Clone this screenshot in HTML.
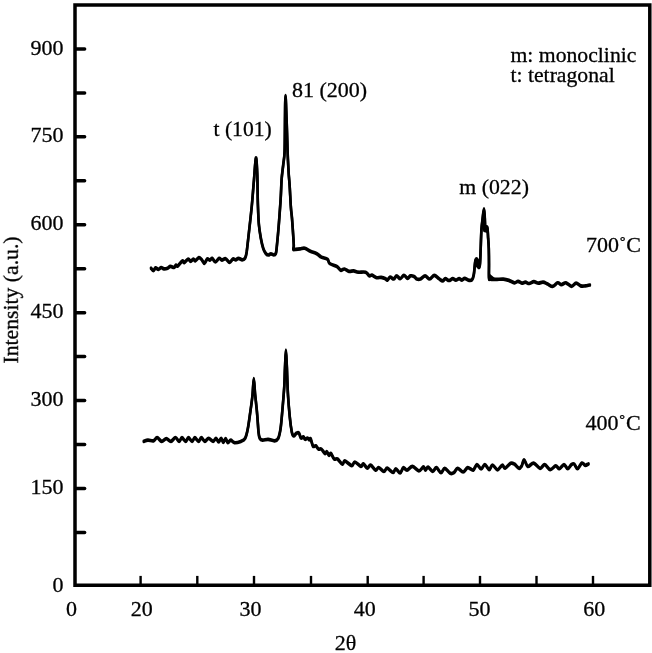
<!DOCTYPE html>
<html><head><meta charset="utf-8"><title>XRD</title>
<style>
html,body{margin:0;padding:0;background:#fff;}
body{width:652px;height:653px;overflow:hidden;}
svg{display:block;}
text{font-family:"Liberation Serif",serif;font-size:22px;fill:#000;stroke:#000;stroke-width:0.3px;}
</style></head><body>
<svg width="652" height="653" viewBox="0 0 652 653">
<rect x="0" y="0" width="652" height="653" fill="#fff"/>
<path d="M75,585.2 L75,4.9 L649.8,4.9 L649.8,585.2 Z" fill="none" stroke="#000" stroke-width="3.5" stroke-linejoin="miter"/>
<g stroke="#000" stroke-width="3.5" stroke-linecap="round"><line x1="76" y1="48.9" x2="84.6" y2="48.9"/><line x1="76" y1="92.9" x2="84.6" y2="92.9"/><line x1="76" y1="136.8" x2="84.6" y2="136.8"/><line x1="76" y1="180.8" x2="84.6" y2="180.8"/><line x1="76" y1="224.7" x2="84.6" y2="224.7"/><line x1="76" y1="268.7" x2="84.6" y2="268.7"/><line x1="76" y1="312.7" x2="84.6" y2="312.7"/><line x1="76" y1="356.6" x2="84.6" y2="356.6"/><line x1="76" y1="400.6" x2="84.6" y2="400.6"/><line x1="76" y1="444.5" x2="84.6" y2="444.5"/><line x1="76" y1="488.5" x2="84.6" y2="488.5"/><line x1="76" y1="532.5" x2="84.6" y2="532.5"/></g>
<g stroke="#000" stroke-width="2.4"><line x1="140.6" y1="575.9" x2="140.6" y2="584.5"/><line x1="197.3" y1="575.9" x2="197.3" y2="584.5"/><line x1="254.0" y1="575.9" x2="254.0" y2="584.5"/><line x1="311.0" y1="575.9" x2="311.0" y2="584.5"/><line x1="367.7" y1="575.9" x2="367.7" y2="584.5"/><line x1="423.6" y1="575.9" x2="423.6" y2="584.5"/><line x1="480.0" y1="575.9" x2="480.0" y2="584.5"/><line x1="536.5" y1="575.9" x2="536.5" y2="584.5"/><line x1="593.0" y1="575.9" x2="593.0" y2="584.5"/></g>
<g opacity="0.999"><text x="63.4" y="54.5" text-anchor="end">900</text><text x="63.4" y="142.4" text-anchor="end">750</text><text x="63.4" y="230.3" text-anchor="end">600</text><text x="63.4" y="318.3" text-anchor="end">450</text><text x="63.4" y="406.2" text-anchor="end">300</text><text x="63.4" y="494.1" text-anchor="end">150</text><text x="63.4" y="592.2" text-anchor="end">0</text><text x="71.5" y="615.8" text-anchor="middle">0</text><text x="141.8" y="615.8" text-anchor="middle">20</text><text x="250.5" y="615.8" text-anchor="middle">30</text><text x="364.8" y="615.8" text-anchor="middle">40</text><text x="479.5" y="615.8" text-anchor="middle">50</text><text x="594.2" y="615.8" text-anchor="middle">60</text>
<text x="345.5" y="650.3" text-anchor="middle">2θ</text>
<text transform="translate(17.9,300) rotate(-90)" text-anchor="middle" style="font-size:21.7px">Intensity (a.u.)</text>
<text x="510.5" y="61.6" style="font-size:21.7px">m: monoclinic</text>
<text x="510.5" y="81.8" style="font-size:21.7px">t: tetragonal</text>
<text x="213.5" y="135.6" style="font-size:21.6px">t (101)</text>
<text x="292" y="97">81 (200)</text>
<text x="459.3" y="193.5" style="font-size:21.8px">m (022)</text>
<text x="586.0" y="252">700˚C</text>
<text x="585.6" y="430.2">400˚C</text></g>
<g fill="none" stroke="#000" stroke-width="2.6" stroke-linejoin="round" stroke-linecap="round">
<g transform="translate(0,-0.55)"><path d="M151.0,268.2 C151.4,268.6 152.5,270.7 153.3,270.6 C154.1,270.6 154.8,268.1 155.6,267.9 C156.4,267.7 157.5,269.4 158.4,269.3 C159.3,269.2 160.3,267.6 161.2,267.5 C162.1,267.4 162.8,268.7 163.9,268.8 C165.0,268.9 166.5,268.6 167.6,268.2 C168.7,267.8 169.3,266.5 170.4,266.4 C171.5,266.3 173.1,267.7 174.0,267.5 C174.9,267.3 175.3,265.4 175.9,265.1 C176.5,264.9 176.6,266.7 177.7,266.0 C178.8,265.3 181.2,261.4 182.3,260.9 C183.4,260.3 183.2,263.0 184.2,262.7 C185.2,262.4 187.1,259.2 188.2,259.0 C189.3,258.8 189.7,261.4 190.6,261.4 C191.5,261.4 192.6,259.1 193.4,259.0 C194.2,258.9 194.3,261.1 195.2,260.9 C196.1,260.7 197.8,257.9 198.9,257.7 C200.0,257.5 200.8,258.7 201.7,259.6 C202.6,260.5 203.5,263.4 204.4,263.3 C205.3,263.2 206.3,259.5 207.2,259.0 C208.1,258.5 209.1,260.2 209.9,260.1 C210.7,260.0 211.3,258.0 212.2,258.3 C213.1,258.6 214.3,262.0 215.5,262.0 C216.7,262.0 218.0,258.6 219.1,258.3 C220.2,258.0 220.8,260.0 221.9,260.1 C223.0,260.2 224.3,258.3 225.6,258.7 C226.9,259.1 228.4,262.2 229.6,262.3 C230.8,262.4 231.9,259.4 232.9,259.0 C233.9,258.6 234.8,259.9 235.7,259.8 C236.6,259.7 237.4,258.3 238.5,258.3 C239.6,258.3 241.1,259.8 242.2,259.8 C243.3,259.8 244.3,259.5 245.0,258.3 C245.7,257.1 245.9,256.9 246.6,252.6 C247.2,248.3 248.0,240.6 248.9,232.6 C249.8,224.6 251.1,213.4 251.9,204.8 C252.7,196.2 253.2,188.7 253.9,180.9 C254.6,173.1 255.3,158.9 255.9,157.9 C256.5,156.9 257.0,167.1 257.3,174.9 C257.6,182.7 257.6,196.5 257.9,204.8 C258.2,213.1 258.4,219.1 258.9,224.7 C259.4,230.3 260.2,234.6 260.9,238.6 C261.6,242.6 262.5,246.1 263.3,248.6 C264.1,251.1 265.0,252.5 265.9,253.6 C266.8,254.7 267.7,255.0 268.5,255.0 C269.3,255.0 270.0,253.8 270.9,253.8 C271.8,253.8 273.0,255.0 273.8,255.0 C274.6,255.0 275.3,255.0 275.8,253.6 C276.3,252.2 276.3,251.4 276.8,246.6 C277.3,241.8 278.2,232.5 278.8,224.7 C279.4,216.9 280.1,207.5 280.6,200.0 C281.1,192.5 281.2,185.4 281.6,179.6 C282.0,173.8 282.7,169.7 283.2,165.0 C283.7,160.3 284.3,159.2 284.6,151.7 C284.9,144.2 284.9,129.4 285.0,120.0 C285.1,110.6 285.2,95.5 285.5,95.5 C285.8,95.5 286.2,110.6 286.6,120.0 C287.0,129.4 287.3,143.0 287.6,151.7 C287.9,160.4 288.3,166.4 288.6,172.0 C288.9,177.6 289.2,179.1 289.6,185.0 C290.0,190.9 290.5,201.9 290.9,207.5 C291.3,213.1 291.6,213.5 292.0,218.4 C292.4,223.3 293.0,232.2 293.3,236.8 C293.6,241.4 293.8,243.9 293.8,246.0 C293.8,248.1 293.0,248.8 293.3,249.3 C293.6,249.9 294.5,249.4 295.6,249.3 C296.8,249.2 298.7,249.0 300.2,248.8 C301.7,248.6 303.1,247.8 304.8,248.2 C306.5,248.6 308.4,250.3 310.4,251.2 C312.4,252.1 315.0,252.7 316.8,253.7 C318.6,254.7 319.6,256.2 321.4,257.1 C323.2,258.0 326.1,258.2 327.5,259.3 C328.9,260.4 328.1,262.3 329.7,263.5 C331.3,264.7 335.3,265.5 337.1,266.6 C338.9,267.7 339.5,269.9 340.7,270.3 C341.9,270.7 343.0,268.8 344.4,269.0 C345.8,269.2 347.5,271.1 349.0,271.4 C350.5,271.7 352.1,270.8 353.6,270.9 C355.1,271.0 356.2,272.0 358.2,272.2 C360.2,272.4 363.8,271.6 365.6,272.2 C367.5,272.8 368.2,275.3 369.3,275.8 C370.4,276.3 370.8,274.8 372.0,275.1 C373.2,275.4 375.1,277.3 376.6,277.7 C378.1,278.1 379.7,277.1 381.2,277.3 C382.7,277.5 384.5,278.2 385.5,278.7 C386.5,279.2 386.6,280.4 387.4,280.1 C388.2,279.9 389.0,277.4 390.1,277.2 C391.2,277.0 392.7,279.2 393.8,279.0 C394.9,278.8 395.5,275.9 396.6,275.9 C397.7,275.8 399.0,278.8 400.2,278.7 C401.4,278.6 402.7,275.4 403.9,275.3 C405.1,275.2 406.5,278.2 407.6,278.3 C408.7,278.4 409.3,276.2 410.4,275.9 C411.5,275.6 412.9,275.9 414.0,276.4 C415.1,276.9 415.7,278.6 416.8,279.0 C417.9,279.4 419.1,279.5 420.5,279.0 C421.9,278.5 423.6,275.9 425.1,275.9 C426.6,275.9 428.2,279.1 429.7,279.0 C431.2,278.9 432.8,275.4 434.3,275.3 C435.8,275.2 437.5,277.8 438.9,278.7 C440.3,279.6 441.5,280.9 442.6,280.9 C443.7,280.9 444.2,278.8 445.3,278.7 C446.4,278.6 447.8,280.5 449.0,280.5 C450.2,280.5 451.6,278.8 452.7,278.7 C453.8,278.6 454.7,280.1 455.8,280.1 C456.9,280.1 458.1,278.7 459.1,278.7 C460.1,278.7 461.0,280.2 461.9,280.1 C462.8,280.0 463.6,278.3 464.7,278.3 C465.8,278.3 467.1,279.9 468.3,280.1 C469.5,280.4 471.1,280.7 472.0,279.8 C472.9,278.9 473.2,277.8 473.8,274.6 C474.4,271.4 474.8,263.1 475.4,260.6 C476.0,258.1 476.9,258.7 477.4,259.8 C477.9,260.9 478.0,266.2 478.4,267.0 C478.8,267.8 479.5,267.8 479.9,264.7 C480.3,261.6 480.4,254.3 480.7,248.6 C480.9,242.8 481.1,235.3 481.4,230.2 C481.7,225.1 482.3,221.6 482.7,218.0 C483.1,214.4 483.6,208.8 484.0,208.8 C484.4,208.8 484.6,214.9 484.8,218.0 C485.0,221.1 484.9,225.6 485.3,227.2 C485.7,228.8 486.8,225.7 487.3,227.5 C487.8,229.3 487.9,234.4 488.1,237.9 C488.4,241.4 488.7,244.3 488.8,248.6 C488.9,252.9 489.0,259.0 489.0,263.9 C489.0,268.8 488.8,275.1 489.0,277.7 C489.2,280.2 489.2,278.9 490.4,279.2 C491.6,279.5 493.8,279.4 496.0,279.4 C498.2,279.4 501.2,278.9 503.4,279.1 C505.5,279.3 507.1,279.8 508.9,280.4 C510.7,281.0 512.9,282.6 514.4,282.8 C515.9,283.0 516.9,281.2 518.1,281.3 C519.3,281.4 520.6,283.0 521.8,283.1 C523.0,283.2 524.3,282.1 525.5,282.2 C526.7,282.3 527.8,283.6 529.2,283.5 C530.6,283.4 532.3,281.8 533.8,281.7 C535.3,281.6 536.9,283.0 538.4,283.1 C539.9,283.2 541.5,282.1 543.0,282.2 C544.5,282.3 546.0,283.3 547.6,284.0 C549.2,284.7 551.0,286.6 552.7,286.4 C554.4,286.2 556.2,283.1 557.7,282.8 C559.2,282.5 560.0,284.6 561.4,284.6 C562.8,284.6 564.3,282.5 566.0,282.8 C567.7,283.1 569.8,286.3 571.5,286.4 C573.2,286.4 574.6,283.2 576.1,283.1 C577.6,283.0 579.2,285.4 580.7,285.9 C582.2,286.4 583.8,286.0 585.3,285.9 C586.8,285.8 589.1,285.1 589.9,285.0"/><path d="M143.8,441.4 C144.5,441.2 146.3,440.2 147.9,440.1 C149.5,440.0 151.9,441.3 153.4,440.9 C154.9,440.5 155.7,437.6 157.1,437.7 C158.5,437.8 160.2,441.2 161.7,441.4 C163.2,441.6 164.8,438.7 166.3,438.7 C167.8,438.7 169.4,441.6 170.9,441.4 C172.4,441.2 174.1,437.7 175.5,437.7 C176.9,437.7 178.1,441.4 179.2,441.4 C180.3,441.4 180.8,437.7 181.9,437.7 C183.0,437.7 184.5,441.4 185.6,441.4 C186.7,441.4 187.3,437.7 188.4,437.7 C189.5,437.7 191.0,441.4 192.1,441.4 C193.2,441.4 193.7,437.7 194.8,437.7 C195.9,437.7 197.4,441.4 198.5,441.4 C199.6,441.4 200.2,437.7 201.3,437.7 C202.4,437.7 203.7,441.3 204.9,441.4 C206.1,441.5 207.2,438.3 208.6,438.3 C210.0,438.3 212.0,441.4 213.2,441.4 C214.4,441.4 215.1,438.2 216.0,438.3 C216.9,438.4 217.8,442.0 218.7,442.0 C219.5,442.0 220.3,438.2 221.1,438.3 C221.9,438.4 222.6,442.2 223.3,442.3 C224.1,442.4 224.8,438.6 225.6,438.7 C226.4,438.8 227.1,442.5 227.9,442.7 C228.8,442.9 229.6,440.1 230.7,440.1 C231.8,440.1 232.7,442.5 234.4,442.7 C236.1,442.9 239.0,442.1 240.8,441.4 C242.6,440.7 243.9,440.6 245.1,438.4 C246.3,436.2 247.0,433.1 247.9,428.3 C248.8,423.6 249.8,415.4 250.6,409.9 C251.4,404.4 252.0,400.4 252.5,395.2 C253.0,390.0 253.4,378.6 253.8,378.6 C254.2,378.6 254.6,389.4 255.2,395.2 C255.8,401.0 256.6,407.5 257.1,413.6 C257.7,419.7 258.1,427.9 258.5,432.0 C258.9,436.1 259.1,437.0 259.8,438.4 C260.5,439.8 261.2,440.0 262.6,440.2 C264.0,440.4 266.1,439.2 268.1,439.3 C270.1,439.4 272.8,441.0 274.5,440.8 C276.2,440.6 277.2,440.5 278.2,438.4 C279.2,436.3 279.9,433.1 280.6,428.3 C281.3,423.6 281.8,416.9 282.4,409.9 C283.0,402.8 283.9,393.1 284.3,386.0 C284.7,378.9 284.7,373.6 285.0,367.6 C285.3,361.6 285.6,350.1 285.9,350.1 C286.2,350.1 286.5,360.1 286.9,367.6 C287.2,375.1 287.5,386.9 288.0,395.2 C288.5,403.5 289.2,411.1 289.8,417.2 C290.4,423.3 291.2,428.9 291.8,432.0 C292.4,435.1 292.9,435.8 293.7,436.0 C294.5,436.2 295.5,433.8 296.4,433.3 C297.2,432.8 298.0,432.1 298.8,432.9 C299.6,433.7 300.2,437.3 301.0,438.0 C301.8,438.7 302.6,436.7 303.3,436.9 C304.0,437.1 304.4,439.1 305.1,439.3 C305.8,439.5 306.8,437.9 307.5,438.0 C308.2,438.1 308.8,439.8 309.3,439.9 C309.8,440.0 310.0,437.8 310.6,438.8 C311.2,439.8 312.1,444.9 313.0,446.1 C313.9,447.3 314.9,445.3 315.8,445.8 C316.7,446.3 317.6,448.6 318.5,449.1 C319.4,449.7 320.2,448.4 321.3,449.1 C322.4,449.8 324.1,453.1 325.0,453.5 C325.9,453.9 326.1,451.4 326.8,451.7 C327.5,452.0 328.3,455.0 329.0,455.3 C329.7,455.6 330.0,452.9 330.9,453.5 C331.8,454.1 333.1,458.1 334.2,459.0 C335.3,459.9 336.1,458.1 337.5,459.0 C338.9,459.9 341.3,463.9 342.5,464.2 C343.7,464.5 343.3,460.7 344.8,460.9 C346.3,461.1 350.0,465.4 351.7,465.6 C353.4,465.8 353.3,461.9 354.8,462.0 C356.3,462.1 359.5,466.1 360.9,466.4 C362.3,466.7 362.2,463.5 363.3,463.8 C364.4,464.1 366.1,468.0 367.3,468.2 C368.5,468.4 369.2,464.8 370.6,465.1 C372.0,465.4 374.2,469.7 375.6,470.1 C377.0,470.5 377.3,467.3 378.7,467.5 C380.1,467.7 382.5,471.4 383.9,471.5 C385.3,471.6 385.7,468.0 387.2,468.2 C388.7,468.4 391.7,472.4 393.1,472.5 C394.5,472.6 394.6,468.7 395.8,468.8 C397.0,468.9 398.9,473.2 400.1,473.0 C401.4,472.8 402.2,468.2 403.3,467.7 C404.4,467.2 405.5,470.3 407.0,470.1 C408.5,469.9 410.5,466.3 412.5,466.4 C414.5,466.5 417.1,470.8 418.9,470.9 C420.7,471.0 422.4,466.9 423.5,466.8 C424.6,466.7 424.6,470.0 425.4,470.1 C426.2,470.2 426.9,467.0 428.1,467.2 C429.3,467.4 431.3,471.3 432.7,471.4 C434.1,471.5 435.0,467.5 436.4,467.7 C437.8,467.9 439.6,472.6 441.0,472.7 C442.4,472.8 443.2,468.2 444.7,468.3 C446.2,468.4 448.7,472.6 450.2,473.3 C451.7,474.0 452.7,473.5 453.9,472.7 C455.1,471.9 456.1,468.4 457.6,468.3 C459.1,468.2 461.4,472.1 463.1,472.0 C464.8,471.9 466.0,468.0 467.7,467.7 C469.4,467.4 471.7,470.6 473.2,470.1 C474.7,469.6 475.6,464.8 476.9,464.6 C478.2,464.4 479.8,469.0 481.1,469.0 C482.4,469.0 483.5,464.5 484.8,464.6 C486.1,464.7 487.9,469.5 489.2,469.6 C490.5,469.7 491.1,465.0 492.5,465.0 C493.9,465.0 495.9,469.8 497.5,469.8 C499.1,469.8 500.9,465.5 502.2,465.2 C503.5,464.9 503.7,468.5 505.1,468.2 C506.5,467.9 509.1,464.0 510.6,463.3 C512.1,462.6 512.9,463.2 514.3,464.0 C515.7,464.8 517.7,468.0 518.9,468.3 C520.1,468.6 520.8,467.3 521.7,465.9 C522.6,464.5 523.1,459.7 524.1,459.8 C525.1,459.9 526.2,465.8 527.8,466.4 C529.4,466.9 531.7,462.8 533.7,463.1 C535.8,463.4 538.3,468.1 540.1,468.3 C541.9,468.6 543.0,464.4 544.7,464.6 C546.4,464.8 548.4,469.4 550.2,469.6 C552.0,469.8 554.2,466.0 555.7,465.9 C557.2,465.8 558.0,468.9 559.4,468.7 C560.8,468.5 562.6,464.6 564.0,464.6 C565.4,464.6 566.5,468.7 567.7,468.7 C568.9,468.7 570.3,465.4 571.4,464.6 C572.5,463.8 573.2,463.3 574.2,464.0 C575.2,464.7 576.2,468.8 577.5,468.7 C578.8,468.6 580.6,463.7 581.9,463.1 C583.2,462.5 584.1,465.2 585.2,465.3 C586.3,465.4 588.0,464.2 588.5,464.0"/></g>
<g transform="translate(0,0.55)"><path d="M151.0,268.2 C151.4,268.6 152.5,270.7 153.3,270.6 C154.1,270.6 154.8,268.1 155.6,267.9 C156.4,267.7 157.5,269.4 158.4,269.3 C159.3,269.2 160.3,267.6 161.2,267.5 C162.1,267.4 162.8,268.7 163.9,268.8 C165.0,268.9 166.5,268.6 167.6,268.2 C168.7,267.8 169.3,266.5 170.4,266.4 C171.5,266.3 173.1,267.7 174.0,267.5 C174.9,267.3 175.3,265.4 175.9,265.1 C176.5,264.9 176.6,266.7 177.7,266.0 C178.8,265.3 181.2,261.4 182.3,260.9 C183.4,260.3 183.2,263.0 184.2,262.7 C185.2,262.4 187.1,259.2 188.2,259.0 C189.3,258.8 189.7,261.4 190.6,261.4 C191.5,261.4 192.6,259.1 193.4,259.0 C194.2,258.9 194.3,261.1 195.2,260.9 C196.1,260.7 197.8,257.9 198.9,257.7 C200.0,257.5 200.8,258.7 201.7,259.6 C202.6,260.5 203.5,263.4 204.4,263.3 C205.3,263.2 206.3,259.5 207.2,259.0 C208.1,258.5 209.1,260.2 209.9,260.1 C210.7,260.0 211.3,258.0 212.2,258.3 C213.1,258.6 214.3,262.0 215.5,262.0 C216.7,262.0 218.0,258.6 219.1,258.3 C220.2,258.0 220.8,260.0 221.9,260.1 C223.0,260.2 224.3,258.3 225.6,258.7 C226.9,259.1 228.4,262.2 229.6,262.3 C230.8,262.4 231.9,259.4 232.9,259.0 C233.9,258.6 234.8,259.9 235.7,259.8 C236.6,259.7 237.4,258.3 238.5,258.3 C239.6,258.3 241.1,259.8 242.2,259.8 C243.3,259.8 244.3,259.5 245.0,258.3 C245.7,257.1 245.9,256.9 246.6,252.6 C247.2,248.3 248.0,240.6 248.9,232.6 C249.8,224.6 251.1,213.4 251.9,204.8 C252.7,196.2 253.2,188.7 253.9,180.9 C254.6,173.1 255.3,158.9 255.9,157.9 C256.5,156.9 257.0,167.1 257.3,174.9 C257.6,182.7 257.6,196.5 257.9,204.8 C258.2,213.1 258.4,219.1 258.9,224.7 C259.4,230.3 260.2,234.6 260.9,238.6 C261.6,242.6 262.5,246.1 263.3,248.6 C264.1,251.1 265.0,252.5 265.9,253.6 C266.8,254.7 267.7,255.0 268.5,255.0 C269.3,255.0 270.0,253.8 270.9,253.8 C271.8,253.8 273.0,255.0 273.8,255.0 C274.6,255.0 275.3,255.0 275.8,253.6 C276.3,252.2 276.3,251.4 276.8,246.6 C277.3,241.8 278.2,232.5 278.8,224.7 C279.4,216.9 280.1,207.5 280.6,200.0 C281.1,192.5 281.2,185.4 281.6,179.6 C282.0,173.8 282.7,169.7 283.2,165.0 C283.7,160.3 284.3,159.2 284.6,151.7 C284.9,144.2 284.9,129.4 285.0,120.0 C285.1,110.6 285.2,95.5 285.5,95.5 C285.8,95.5 286.2,110.6 286.6,120.0 C287.0,129.4 287.3,143.0 287.6,151.7 C287.9,160.4 288.3,166.4 288.6,172.0 C288.9,177.6 289.2,179.1 289.6,185.0 C290.0,190.9 290.5,201.9 290.9,207.5 C291.3,213.1 291.6,213.5 292.0,218.4 C292.4,223.3 293.0,232.2 293.3,236.8 C293.6,241.4 293.8,243.9 293.8,246.0 C293.8,248.1 293.0,248.8 293.3,249.3 C293.6,249.9 294.5,249.4 295.6,249.3 C296.8,249.2 298.7,249.0 300.2,248.8 C301.7,248.6 303.1,247.8 304.8,248.2 C306.5,248.6 308.4,250.3 310.4,251.2 C312.4,252.1 315.0,252.7 316.8,253.7 C318.6,254.7 319.6,256.2 321.4,257.1 C323.2,258.0 326.1,258.2 327.5,259.3 C328.9,260.4 328.1,262.3 329.7,263.5 C331.3,264.7 335.3,265.5 337.1,266.6 C338.9,267.7 339.5,269.9 340.7,270.3 C341.9,270.7 343.0,268.8 344.4,269.0 C345.8,269.2 347.5,271.1 349.0,271.4 C350.5,271.7 352.1,270.8 353.6,270.9 C355.1,271.0 356.2,272.0 358.2,272.2 C360.2,272.4 363.8,271.6 365.6,272.2 C367.5,272.8 368.2,275.3 369.3,275.8 C370.4,276.3 370.8,274.8 372.0,275.1 C373.2,275.4 375.1,277.3 376.6,277.7 C378.1,278.1 379.7,277.1 381.2,277.3 C382.7,277.5 384.5,278.2 385.5,278.7 C386.5,279.2 386.6,280.4 387.4,280.1 C388.2,279.9 389.0,277.4 390.1,277.2 C391.2,277.0 392.7,279.2 393.8,279.0 C394.9,278.8 395.5,275.9 396.6,275.9 C397.7,275.8 399.0,278.8 400.2,278.7 C401.4,278.6 402.7,275.4 403.9,275.3 C405.1,275.2 406.5,278.2 407.6,278.3 C408.7,278.4 409.3,276.2 410.4,275.9 C411.5,275.6 412.9,275.9 414.0,276.4 C415.1,276.9 415.7,278.6 416.8,279.0 C417.9,279.4 419.1,279.5 420.5,279.0 C421.9,278.5 423.6,275.9 425.1,275.9 C426.6,275.9 428.2,279.1 429.7,279.0 C431.2,278.9 432.8,275.4 434.3,275.3 C435.8,275.2 437.5,277.8 438.9,278.7 C440.3,279.6 441.5,280.9 442.6,280.9 C443.7,280.9 444.2,278.8 445.3,278.7 C446.4,278.6 447.8,280.5 449.0,280.5 C450.2,280.5 451.6,278.8 452.7,278.7 C453.8,278.6 454.7,280.1 455.8,280.1 C456.9,280.1 458.1,278.7 459.1,278.7 C460.1,278.7 461.0,280.2 461.9,280.1 C462.8,280.0 463.6,278.3 464.7,278.3 C465.8,278.3 467.1,279.9 468.3,280.1 C469.5,280.4 471.1,280.7 472.0,279.8 C472.9,278.9 473.2,277.8 473.8,274.6 C474.4,271.4 474.8,263.1 475.4,260.6 C476.0,258.1 476.9,258.7 477.4,259.8 C477.9,260.9 478.0,266.2 478.4,267.0 C478.8,267.8 479.5,267.8 479.9,264.7 C480.3,261.6 480.4,254.3 480.7,248.6 C480.9,242.8 481.1,235.3 481.4,230.2 C481.7,225.1 482.3,221.6 482.7,218.0 C483.1,214.4 483.6,208.8 484.0,208.8 C484.4,208.8 484.6,214.9 484.8,218.0 C485.0,221.1 484.9,225.6 485.3,227.2 C485.7,228.8 486.8,225.7 487.3,227.5 C487.8,229.3 487.9,234.4 488.1,237.9 C488.4,241.4 488.7,244.3 488.8,248.6 C488.9,252.9 489.0,259.0 489.0,263.9 C489.0,268.8 488.8,275.1 489.0,277.7 C489.2,280.2 489.2,278.9 490.4,279.2 C491.6,279.5 493.8,279.4 496.0,279.4 C498.2,279.4 501.2,278.9 503.4,279.1 C505.5,279.3 507.1,279.8 508.9,280.4 C510.7,281.0 512.9,282.6 514.4,282.8 C515.9,283.0 516.9,281.2 518.1,281.3 C519.3,281.4 520.6,283.0 521.8,283.1 C523.0,283.2 524.3,282.1 525.5,282.2 C526.7,282.3 527.8,283.6 529.2,283.5 C530.6,283.4 532.3,281.8 533.8,281.7 C535.3,281.6 536.9,283.0 538.4,283.1 C539.9,283.2 541.5,282.1 543.0,282.2 C544.5,282.3 546.0,283.3 547.6,284.0 C549.2,284.7 551.0,286.6 552.7,286.4 C554.4,286.2 556.2,283.1 557.7,282.8 C559.2,282.5 560.0,284.6 561.4,284.6 C562.8,284.6 564.3,282.5 566.0,282.8 C567.7,283.1 569.8,286.3 571.5,286.4 C573.2,286.4 574.6,283.2 576.1,283.1 C577.6,283.0 579.2,285.4 580.7,285.9 C582.2,286.4 583.8,286.0 585.3,285.9 C586.8,285.8 589.1,285.1 589.9,285.0"/><path d="M143.8,441.4 C144.5,441.2 146.3,440.2 147.9,440.1 C149.5,440.0 151.9,441.3 153.4,440.9 C154.9,440.5 155.7,437.6 157.1,437.7 C158.5,437.8 160.2,441.2 161.7,441.4 C163.2,441.6 164.8,438.7 166.3,438.7 C167.8,438.7 169.4,441.6 170.9,441.4 C172.4,441.2 174.1,437.7 175.5,437.7 C176.9,437.7 178.1,441.4 179.2,441.4 C180.3,441.4 180.8,437.7 181.9,437.7 C183.0,437.7 184.5,441.4 185.6,441.4 C186.7,441.4 187.3,437.7 188.4,437.7 C189.5,437.7 191.0,441.4 192.1,441.4 C193.2,441.4 193.7,437.7 194.8,437.7 C195.9,437.7 197.4,441.4 198.5,441.4 C199.6,441.4 200.2,437.7 201.3,437.7 C202.4,437.7 203.7,441.3 204.9,441.4 C206.1,441.5 207.2,438.3 208.6,438.3 C210.0,438.3 212.0,441.4 213.2,441.4 C214.4,441.4 215.1,438.2 216.0,438.3 C216.9,438.4 217.8,442.0 218.7,442.0 C219.5,442.0 220.3,438.2 221.1,438.3 C221.9,438.4 222.6,442.2 223.3,442.3 C224.1,442.4 224.8,438.6 225.6,438.7 C226.4,438.8 227.1,442.5 227.9,442.7 C228.8,442.9 229.6,440.1 230.7,440.1 C231.8,440.1 232.7,442.5 234.4,442.7 C236.1,442.9 239.0,442.1 240.8,441.4 C242.6,440.7 243.9,440.6 245.1,438.4 C246.3,436.2 247.0,433.1 247.9,428.3 C248.8,423.6 249.8,415.4 250.6,409.9 C251.4,404.4 252.0,400.4 252.5,395.2 C253.0,390.0 253.4,378.6 253.8,378.6 C254.2,378.6 254.6,389.4 255.2,395.2 C255.8,401.0 256.6,407.5 257.1,413.6 C257.7,419.7 258.1,427.9 258.5,432.0 C258.9,436.1 259.1,437.0 259.8,438.4 C260.5,439.8 261.2,440.0 262.6,440.2 C264.0,440.4 266.1,439.2 268.1,439.3 C270.1,439.4 272.8,441.0 274.5,440.8 C276.2,440.6 277.2,440.5 278.2,438.4 C279.2,436.3 279.9,433.1 280.6,428.3 C281.3,423.6 281.8,416.9 282.4,409.9 C283.0,402.8 283.9,393.1 284.3,386.0 C284.7,378.9 284.7,373.6 285.0,367.6 C285.3,361.6 285.6,350.1 285.9,350.1 C286.2,350.1 286.5,360.1 286.9,367.6 C287.2,375.1 287.5,386.9 288.0,395.2 C288.5,403.5 289.2,411.1 289.8,417.2 C290.4,423.3 291.2,428.9 291.8,432.0 C292.4,435.1 292.9,435.8 293.7,436.0 C294.5,436.2 295.5,433.8 296.4,433.3 C297.2,432.8 298.0,432.1 298.8,432.9 C299.6,433.7 300.2,437.3 301.0,438.0 C301.8,438.7 302.6,436.7 303.3,436.9 C304.0,437.1 304.4,439.1 305.1,439.3 C305.8,439.5 306.8,437.9 307.5,438.0 C308.2,438.1 308.8,439.8 309.3,439.9 C309.8,440.0 310.0,437.8 310.6,438.8 C311.2,439.8 312.1,444.9 313.0,446.1 C313.9,447.3 314.9,445.3 315.8,445.8 C316.7,446.3 317.6,448.6 318.5,449.1 C319.4,449.7 320.2,448.4 321.3,449.1 C322.4,449.8 324.1,453.1 325.0,453.5 C325.9,453.9 326.1,451.4 326.8,451.7 C327.5,452.0 328.3,455.0 329.0,455.3 C329.7,455.6 330.0,452.9 330.9,453.5 C331.8,454.1 333.1,458.1 334.2,459.0 C335.3,459.9 336.1,458.1 337.5,459.0 C338.9,459.9 341.3,463.9 342.5,464.2 C343.7,464.5 343.3,460.7 344.8,460.9 C346.3,461.1 350.0,465.4 351.7,465.6 C353.4,465.8 353.3,461.9 354.8,462.0 C356.3,462.1 359.5,466.1 360.9,466.4 C362.3,466.7 362.2,463.5 363.3,463.8 C364.4,464.1 366.1,468.0 367.3,468.2 C368.5,468.4 369.2,464.8 370.6,465.1 C372.0,465.4 374.2,469.7 375.6,470.1 C377.0,470.5 377.3,467.3 378.7,467.5 C380.1,467.7 382.5,471.4 383.9,471.5 C385.3,471.6 385.7,468.0 387.2,468.2 C388.7,468.4 391.7,472.4 393.1,472.5 C394.5,472.6 394.6,468.7 395.8,468.8 C397.0,468.9 398.9,473.2 400.1,473.0 C401.4,472.8 402.2,468.2 403.3,467.7 C404.4,467.2 405.5,470.3 407.0,470.1 C408.5,469.9 410.5,466.3 412.5,466.4 C414.5,466.5 417.1,470.8 418.9,470.9 C420.7,471.0 422.4,466.9 423.5,466.8 C424.6,466.7 424.6,470.0 425.4,470.1 C426.2,470.2 426.9,467.0 428.1,467.2 C429.3,467.4 431.3,471.3 432.7,471.4 C434.1,471.5 435.0,467.5 436.4,467.7 C437.8,467.9 439.6,472.6 441.0,472.7 C442.4,472.8 443.2,468.2 444.7,468.3 C446.2,468.4 448.7,472.6 450.2,473.3 C451.7,474.0 452.7,473.5 453.9,472.7 C455.1,471.9 456.1,468.4 457.6,468.3 C459.1,468.2 461.4,472.1 463.1,472.0 C464.8,471.9 466.0,468.0 467.7,467.7 C469.4,467.4 471.7,470.6 473.2,470.1 C474.7,469.6 475.6,464.8 476.9,464.6 C478.2,464.4 479.8,469.0 481.1,469.0 C482.4,469.0 483.5,464.5 484.8,464.6 C486.1,464.7 487.9,469.5 489.2,469.6 C490.5,469.7 491.1,465.0 492.5,465.0 C493.9,465.0 495.9,469.8 497.5,469.8 C499.1,469.8 500.9,465.5 502.2,465.2 C503.5,464.9 503.7,468.5 505.1,468.2 C506.5,467.9 509.1,464.0 510.6,463.3 C512.1,462.6 512.9,463.2 514.3,464.0 C515.7,464.8 517.7,468.0 518.9,468.3 C520.1,468.6 520.8,467.3 521.7,465.9 C522.6,464.5 523.1,459.7 524.1,459.8 C525.1,459.9 526.2,465.8 527.8,466.4 C529.4,466.9 531.7,462.8 533.7,463.1 C535.8,463.4 538.3,468.1 540.1,468.3 C541.9,468.6 543.0,464.4 544.7,464.6 C546.4,464.8 548.4,469.4 550.2,469.6 C552.0,469.8 554.2,466.0 555.7,465.9 C557.2,465.8 558.0,468.9 559.4,468.7 C560.8,468.5 562.6,464.6 564.0,464.6 C565.4,464.6 566.5,468.7 567.7,468.7 C568.9,468.7 570.3,465.4 571.4,464.6 C572.5,463.8 573.2,463.3 574.2,464.0 C575.2,464.7 576.2,468.8 577.5,468.7 C578.8,468.6 580.6,463.7 581.9,463.1 C583.2,462.5 584.1,465.2 585.2,465.3 C586.3,465.4 588.0,464.2 588.5,464.0"/></g>
</g>
<path d="M475.0,260.0 L477.8,259.2 L479.6,259.6 L480.4,266.5 L478.2,268.2 L475.6,267 Z" fill="#000"/>
<path d="M481.6,226 L484,209 L486,226.5 L487.6,227.2 L487.4,233 L483.5,232 Z" fill="#000"/>
<path d="M488.6,272 L490.6,274.5 L495.5,278.5 L495.5,280.8 L488.6,280.8 Z" fill="#000"/>
</svg>
</body></html>
